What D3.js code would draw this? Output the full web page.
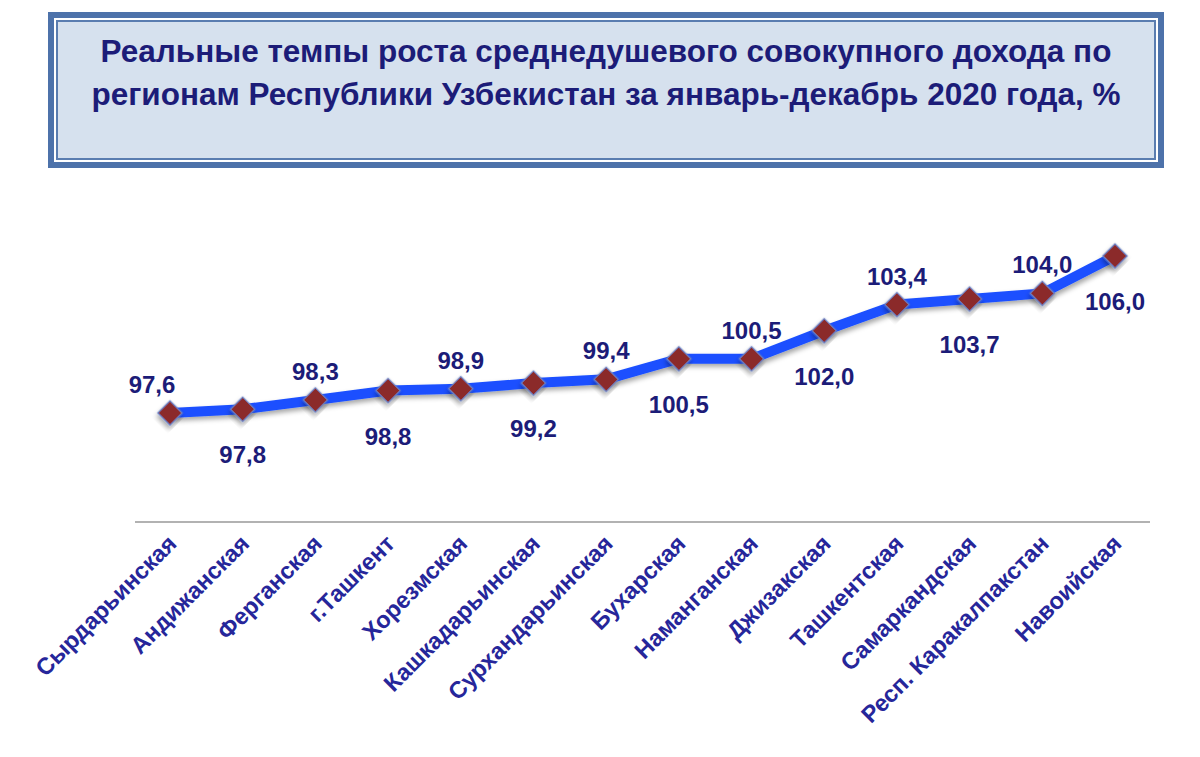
<!DOCTYPE html><html><head><meta charset="utf-8"><script src="https://d3js.org/d3.v7.min.js"></script>
<style>body{margin:0;background:#fff}</style></head><body><svg id="c" width="1200" height="757"></svg>
<script>
const categories=["Сырдарьинская","Андижанская","Ферганская","г.Ташкент","Хорезмская","Кашкадарьинская","Сурхандарьинская","Бухарская","Наманганская","Джизакская","Ташкентская","Самаркандская","Респ. Каракалпакстан","Навоийская"];
const values=[97.6,97.8,98.3,98.8,98.9,99.2,99.4,100.5,100.5,102.0,103.4,103.7,104.0,106.0];
const labelPos=["up","down","up","down","up","down","up","down","up","down","up","down","up","down"];
const titleLines=["Реальные темпы роста среднедушевого совокупного дохода по","регионам Республики Узбекистан за январь-декабрь 2020 года, %"];
const svg=d3.select("#c");
const F="Liberation Sans, Arial, sans-serif", navy="#1c1c78";
svg.append("rect").attr("x",48).attr("y",12).attr("width",1116).attr("height",156).attr("fill","#4d72aa");
svg.append("rect").attr("x",54).attr("y",18).attr("width",1104).attr("height",144).attr("fill","#fff");
svg.append("rect").attr("x",56).attr("y",20).attr("width",1100).attr("height",140).attr("fill","#5a7db0");
svg.append("rect").attr("x",58).attr("y",22).attr("width",1096).attr("height",136).attr("fill","#d6e1ee");
svg.selectAll(".t").data(titleLines).join("text").attr("x",606).attr("y",(d,i)=>62+i*43)
 .attr("text-anchor","middle").attr("font-family",F).attr("font-weight","bold").attr("font-size",31.5).attr("fill",navy).text(d=>d);
const x=d3.scalePoint().domain(categories).range([170,1115]);
const y=d3.scaleLinear().domain([97.6,106]).range([413,256]);
svg.append("line").attr("x1",135).attr("x2",1150).attr("y1",522).attr("y2",522).attr("stroke","#999").attr("stroke-width",1.5);
const defs=svg.append("defs");
const f=defs.append("filter").attr("id","sh").attr("x","-20%").attr("y","-20%").attr("width","140%").attr("height","160%");
f.append("feDropShadow").attr("dx",2).attr("dy",3).attr("stdDeviation",2.5).attr("flood-color","#000").attr("flood-opacity",0.35);
const line=d3.line().x((d,i)=>x(categories[i])).y(d=>y(d));
svg.append("path").datum(values).attr("d",line).attr("fill","none").attr("stroke","#1a50ff").attr("stroke-width",10).attr("stroke-linejoin","round").attr("filter","url(#sh)");
svg.selectAll(".m").data(values).join("path").attr("d",d3.symbol(d3.symbolSquare,300)())
 .attr("transform",(d,i)=>`translate(${x(categories[i])},${y(d)}) rotate(45)`)
 .attr("fill","#8b2b2b").attr("stroke","#6a7fc0").attr("stroke-width",1.2).attr("filter","url(#sh)");
svg.selectAll(".v").data(values).join("text").attr("x",(d,i)=>x(categories[i])-18*(i==0)).attr("y",(d,i)=>y(d)+(labelPos[i]=="up"?-20:54))
 .attr("text-anchor","middle").attr("font-family",F).attr("font-weight","bold").attr("font-size",24).attr("fill",navy)
 .text(d=>d.toFixed(1).replace(".",","));
svg.selectAll(".c").data(categories).join("text").attr("transform",d=>`translate(${x(d)+8},${545}) rotate(-45)`)
 .attr("text-anchor","end").attr("font-family",F).attr("font-weight","bold").attr("font-size",23.5).attr("fill","#26269a").text(d=>d);
</script></body></html>
